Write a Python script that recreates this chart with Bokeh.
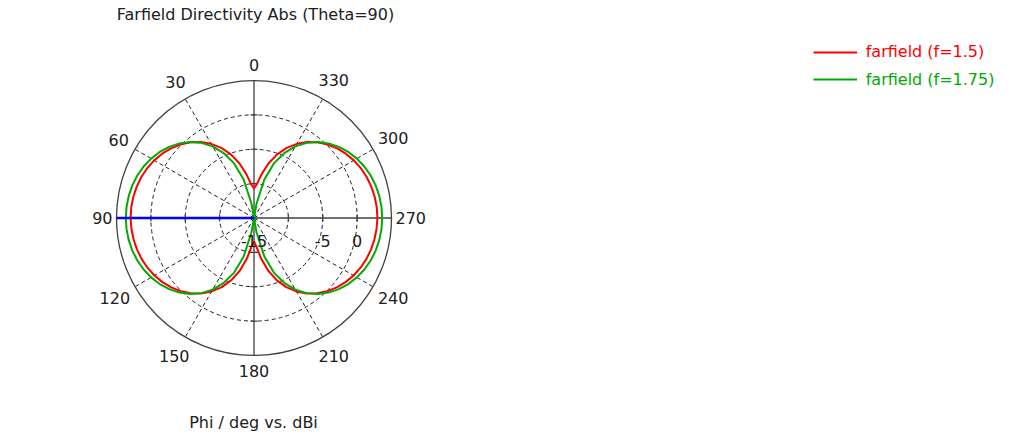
import math
from bokeh.plotting import figure
from bokeh.models import Legend, LegendItem, Label
from bokeh.embed import file_html
from bokeh.resources import INLINE
from bokeh.core.properties import value

# ---------------- data ----------------
phi_deg = list(range(0, 360, 5))

red_db = [-10.71, -10.03, -8.48, -6.75, -5.15, -3.75, -2.54, -1.51, -0.63, 0.12,
          0.77, 1.31, 1.76, 2.14, 2.44, 2.66, 2.82, 2.92, 2.95, 2.90,
          2.79, 2.63, 2.40, 2.10, 1.72, 1.26, 0.71, 0.06, -0.71, -1.61,
          -2.67, -3.91, -5.38, -7.09, -9.00, -10.79, -11.60, -10.79, -9.00, -7.09,
          -5.38, -3.91, -2.67, -1.61, -0.71, 0.06, 0.71, 1.26, 1.72, 2.10,
          2.40, 2.63, 2.79, 2.90, 2.95, 2.92, 2.82, 2.66, 2.44, 2.14,
          1.76, 1.31, 0.77, 0.12, -0.63, -1.51, -2.54, -3.75, -5.15, -6.75,
          -8.48, -10.03]

green_db = [-26.0, -18.8, -12.9, -9.2, -6.55, -4.6, -2.97, -1.66, -0.57, 0.34,
            1.10, 1.74, 2.28, 2.71, 3.06, 3.32, 3.50, 3.61, 3.65, 3.61,
            3.50, 3.32, 3.06, 2.71, 2.28, 1.74, 1.10, 0.34, -0.57, -1.66,
            -2.97, -4.6, -6.55, -9.2, -12.9, -18.8, -26.0, -18.8, -12.9, -9.2,
            -6.55, -4.6, -2.97, -1.66, -0.57, 0.34, 1.10, 1.74, 2.28, 2.71,
            3.06, 3.32, 3.50, 3.61, 3.65, 3.61, 3.50, 3.32, 3.06, 2.71,
            2.28, 1.74, 1.10, 0.34, -0.57, -1.66, -2.97, -4.6, -6.55, -9.2,
            -12.9, -18.8]

series_labels = ["farfield (f=1.5)", "farfield (f=1.75)"]
series_colors = ["#ff0000", "#00aa00"]

main_lobe_phi = 90           # blue marker line direction
angle_ticks = [0, 30, 60, 90, 120, 150, 180, 210, 240, 270, 300, 330]
angle_tick_labels = [str(a) for a in angle_ticks]
radial_grid = [-10, -5, 0]
radial_tick_values = [-15, -5, 0]
radial_tick_labels = ["-15", "-5", "0"]
R_MIN, R_MAX = -15, 5

title_text = "Farfield Directivity Abs (Theta=90)"
xlabel_text = "Phi / deg vs. dBi"

# ---------------- layout ----------------
W, H = 1033, 440
SCALE = 6.875            # px per dB
CX, CY = 253.5, 217.5    # polar centre in canvas px (from top-left)
FONT = "DejaVu Sans"
FS = "16px"
TXT = "#202020"
AX = "#404040"
DASH = "4 3"


def polar(db_vals, phis):
    xs, ys = [], []
    for v, ph in zip(db_vals, phis):
        r = max(v - R_MIN, 0.0)
        a = math.radians(ph)
        xs.append(-r * math.sin(a))
        ys.append(r * math.cos(a))
    return xs, ys


p = figure(width=W, height=H, output_backend="svg", toolbar_location=None,
           x_range=(-CX / SCALE, (W - CX) / SCALE),
           y_range=(-(H - CY) / SCALE, CY / SCALE),
           x_axis_type=None, y_axis_type=None, min_border=0)
p.outline_line_color = None
p.background_fill_color = "white"
p.border_fill_color = "white"

RR = R_MAX - R_MIN

# dashed grid circles
p.circle(x=[0] * len(radial_grid), y=[0] * len(radial_grid),
         radius=[g - R_MIN for g in radial_grid], fill_color=None,
         line_color="#202020", line_dash=DASH, line_width=1)

# dashed radial spokes
spokes = [a for a in angle_ticks if a % 90 != 0]
sx0, sy0, sx1, sy1 = [], [], [], []
for a in spokes:
    ex, ey = polar([R_MAX], [a])
    sx0.append(0); sy0.append(0); sx1.append(ex[0]); sy1.append(ey[0])
p.segment(sx0, sy0, sx1, sy1, line_color="#202020", line_dash=DASH, line_width=1)

# outer circle
p.circle(x=[0], y=[0], radius=[RR], fill_color=None, line_color=AX, line_width=1.3)

# solid axes
axes_angles = [0, 90, 180, 270]
ax0, ay0, ax1, ay1 = [], [], [], []
for a in axes_angles:
    ex, ey = polar([R_MAX], [a])
    ax0.append(0); ay0.append(0); ax1.append(ex[0]); ay1.append(ey[0])
p.segment(ax0, ay0, ax1, ay1, line_color=AX, line_width=1.3)

# small ticks on axes
tx, ty, tang = [], [], []
for a in axes_angles:
    for g in radial_grid:
        ex, ey = polar([g], [a])
        tx.append(ex[0]); ty.append(ey[0])
        tang.append(math.pi / 2 if a % 180 else 0.0)
p.scatter(tx, ty, marker="dash", size=7, angle=tang, line_color=AX, line_width=1.2)

# series
rx, ry = polar(red_db + red_db[:1], phi_deg + phi_deg[:1])
gx, gy = polar(green_db + green_db[:1], phi_deg + phi_deg[:1])
r_red = p.line(rx, ry, line_color=series_colors[0], line_width=2)
r_green = p.line(gx, gy, line_color=series_colors[1], line_width=2)

# blue main-lobe line
bx, by = polar([R_MAX, R_MIN], [main_lobe_phi, main_lobe_phi])
p.line(bx, by, line_color="#0000ff", line_width=2.5)

# angle labels
lx, ly, lxo, lyo = [], [], [], []
for a, lab in zip(angle_ticks, angle_tick_labels):
    ex, ey = polar([R_MAX], [a])
    s = abs(math.sin(math.radians(a)))
    c = abs(math.cos(math.radians(a)))
    hw = 5.09 * len(lab)
    hh = 5.9
    d = 4 + 6 * c + hw * s + hh * c
    lx.append(ex[0]); ly.append(ey[0])
    lxo.append(-d * math.sin(math.radians(a)))
    lyo.append(-d * math.cos(math.radians(a)))
p.text(x=lx, y=ly, text=angle_tick_labels, x_offset=lxo, y_offset=lyo,
       text_align="center", text_baseline="middle", text_font=value(FONT),
       text_font_size=FS, text_color=TXT)

# radial labels (below the 270 axis)
rlx, rly = polar(radial_tick_values, [270] * len(radial_tick_values))
p.text(x=rlx, y=rly, text=radial_tick_labels, y_offset=22.5,
       text_align="center", text_baseline="middle", text_font=value(FONT),
       text_font_size=FS, text_color=TXT)

# title and bottom label
p.add_layout(Label(x=255, y=H - 13.5, x_units="screen", y_units="screen",
                   text=title_text, text_align="center", text_baseline="middle",
                   text_font=FONT, text_font_size=FS, text_color=TXT))
p.add_layout(Label(x=253, y=H - 421.7, x_units="screen", y_units="screen",
                   text=xlabel_text, text_align="center", text_baseline="middle",
                   text_font=FONT, text_font_size=FS, text_color=TXT))

# legends
for ren, lab, col, ymid in [(r_red, series_labels[0], series_colors[0], 51.7),
                            (r_green, series_labels[1], series_colors[1], 79.3)]:
    leg = Legend(items=[LegendItem(label=lab, renderers=[ren])],
                 location=(812.7, H - ymid - 10),
                 border_line_color=None, background_fill_alpha=0,
                 padding=0, margin=0, spacing=0,
                 glyph_width=44, glyph_height=20, label_height=20,
                 label_standoff=9, label_text_font=FONT,
                 label_text_font_size=FS, label_text_color=col)
    p.add_layout(leg)

open("out.html", "w").write(file_html(p, INLINE))
